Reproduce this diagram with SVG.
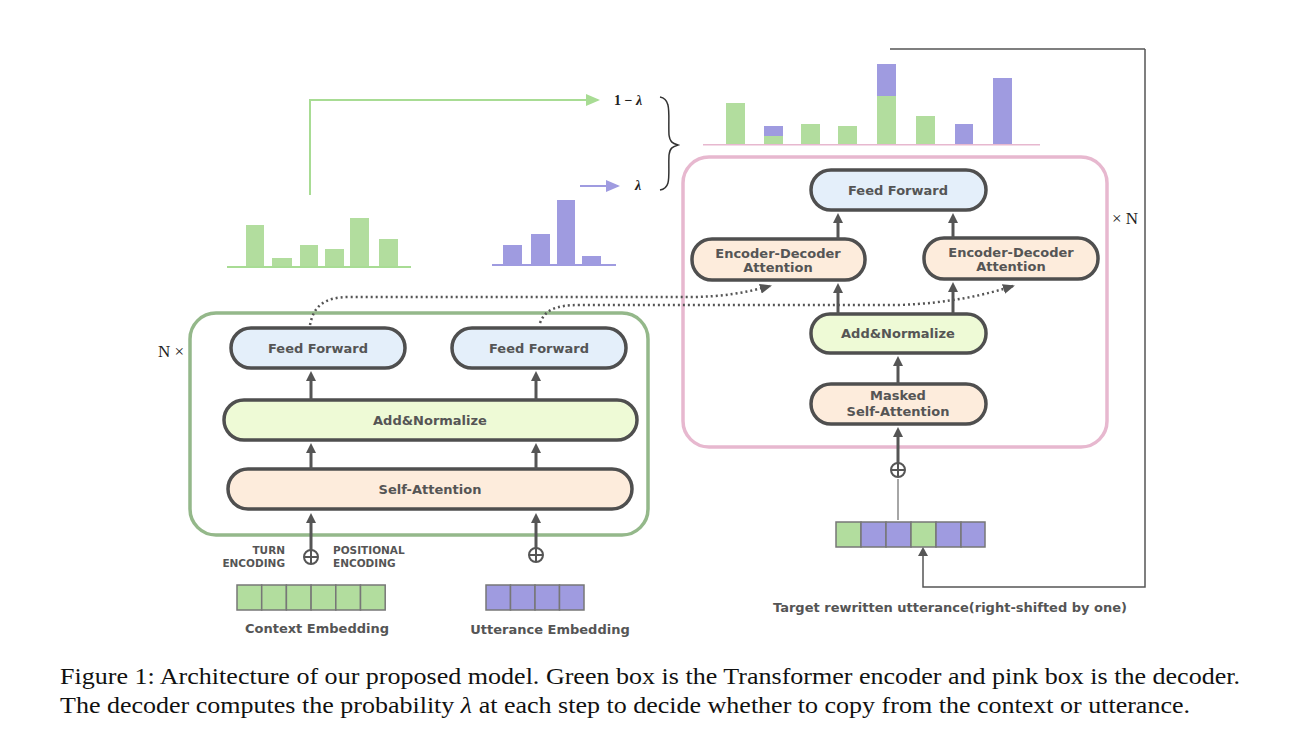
<svg xmlns="http://www.w3.org/2000/svg" width="1298" height="748" viewBox="0 0 1298 748">
<defs>
<style>
.pill{stroke:#4f4f4f;stroke-width:3.5}
.ff{fill:#e4effa}.an{fill:#eefad6}.at{fill:#fdecdc}
.lbl{font-family:"DejaVu Sans",sans-serif;font-weight:bold;fill:#555;font-size:13px;text-anchor:middle}
.sm{font-family:"DejaVu Sans",sans-serif;font-weight:bold;fill:#555;font-size:10.5px}
.dot{stroke:#555;stroke-width:2.5;fill:none;stroke-dasharray:2 3}
.g{fill:#b2dd9e}.p{fill:#9f9be0}
.cap{font-family:"Liberation Serif",serif;font-size:23px;fill:#111}
.cell{stroke:#777;stroke-width:1.5}
</style>
<marker id="ah" markerWidth="10" markerHeight="10" refX="5" refY="5" orient="auto" markerUnits="userSpaceOnUse" viewBox="0 0 10 10"><path d="M0,0 L10,5 L0,10z" fill="#555"/></marker>
<marker id="ahd" markerWidth="12" markerHeight="10" refX="10" refY="5" orient="auto" markerUnits="userSpaceOnUse"><path d="M0,0 L12,5 L0,10z" fill="#555"/></marker>
<marker id="ahg" markerWidth="14" markerHeight="12" refX="12" refY="6" orient="auto" markerUnits="userSpaceOnUse"><path d="M0,0 L14,6 L0,12z" fill="#a8dc94"/></marker>
<marker id="ahp" markerWidth="14" markerHeight="12" refX="12" refY="6" orient="auto" markerUnits="userSpaceOnUse"><path d="M0,0 L14,6 L0,12z" fill="#9f9be0"/></marker>
</defs>
<rect width="1298" height="748" fill="#fff"/>

<g id="encoder">
<rect x="190" y="313" width="458" height="222" rx="26" fill="none" stroke="#94b88a" stroke-width="3.5"/>
<text x="158" y="357" font-family="Liberation Serif,serif" font-size="17" fill="#222">N ×</text>
</g>
<g id="enc-ff-left"><rect class="pill ff" x="231" y="328" width="174" height="40" rx="20"/><text class="lbl" x="318" y="353">Feed Forward</text></g>
<g id="enc-ff-right"><rect class="pill ff" x="452" y="328" width="174" height="40" rx="20"/><text class="lbl" x="539" y="353">Feed Forward</text></g>
<g id="enc-addnorm"><rect class="pill an" x="224" y="400" width="413" height="40" rx="20"/><text class="lbl" x="430" y="425">Add&amp;Normalize</text></g>
<g id="enc-selfattn"><rect class="pill at" x="228" y="469" width="404" height="40" rx="20"/><text class="lbl" x="430" y="494">Self-Attention</text></g>

<g id="decoder">
<rect x="683" y="157" width="424" height="290" rx="26" fill="none" stroke="#e7b8cf" stroke-width="3.5"/>
<text x="1112" y="224" font-family="Liberation Serif,serif" font-size="17" fill="#222">× N</text>
</g>
<g id="dec-ff"><rect class="pill ff" x="811" y="170" width="175" height="40" rx="20"/><text class="lbl" x="898" y="195">Feed Forward</text></g>
<g id="dec-eda-left"><rect class="pill at" x="692" y="239" width="173" height="41" rx="20"/><text class="lbl" x="778" y="258" font-size="11.5">Encoder-Decoder</text><text class="lbl" x="778" y="272" font-size="11.5">Attention</text></g>
<g id="dec-eda-right"><rect class="pill at" x="924" y="238" width="174" height="41" rx="20"/><text class="lbl" x="1011" y="257" font-size="11.5">Encoder-Decoder</text><text class="lbl" x="1011" y="271" font-size="11.5">Attention</text></g>
<g id="dec-addnorm"><rect class="pill an" x="811" y="314" width="175" height="39" rx="19"/><text class="lbl" x="898" y="338">Add&amp;Normalize</text></g>
<g id="dec-masked"><rect class="pill at" x="811" y="384" width="175" height="40" rx="20"/><text class="lbl" x="898" y="400" font-size="12">Masked</text><text class="lbl" x="898" y="416" font-size="12">Self-Attention</text></g>

<g id="inputs">
<g fill="none" stroke="#555" stroke-width="2"><circle cx="311" cy="557" r="7"/><path d="M304,557h14M311,550v14"/><circle cx="536" cy="555" r="7"/><path d="M529,555h14M536,548v14"/><circle cx="898" cy="470" r="7"/><path d="M891,470h14M898,463v14"/></g>
<text class="sm" x="285" y="554" text-anchor="end">TURN</text><text class="sm" x="285" y="567" text-anchor="end">ENCODING</text>
<text class="sm" x="333" y="554">POSITIONAL</text><text class="sm" x="333" y="567">ENCODING</text>
<g class="g"><rect class="cell" x="237" y="585" width="24.7" height="25"/><rect class="cell" x="261.7" y="585" width="24.7" height="25"/><rect class="cell" x="286.4" y="585" width="24.7" height="25"/><rect class="cell" x="311.1" y="585" width="24.7" height="25"/><rect class="cell" x="335.8" y="585" width="24.7" height="25"/><rect class="cell" x="360.5" y="585" width="24.7" height="25"/></g>
<g class="p"><rect class="cell" x="486" y="585" width="24.5" height="25"/><rect class="cell" x="510.5" y="585" width="24.5" height="25"/><rect class="cell" x="535" y="585" width="24.5" height="25"/><rect class="cell" x="559.5" y="585" width="24.5" height="25"/></g>
<text class="lbl" x="317" y="633" font-size="12.5">Context Embedding</text>
<text class="lbl" x="550" y="634" font-size="12.5">Utterance Embedding</text>
<rect class="cell g" x="836" y="522" width="25" height="25"/><rect class="cell p" x="861" y="522" width="25" height="25"/><rect class="cell p" x="886" y="522" width="25" height="25"/><rect class="cell g" x="911" y="522" width="25" height="25"/><rect class="cell p" x="936" y="522" width="25" height="25"/><rect class="cell p" x="961" y="522" width="24" height="25"/>
<text class="lbl" x="950" y="612" font-size="11.5">Target rewritten utterance(right-shifted by one)</text>
</g>

<g id="charts">
<rect x="227" y="266" width="184" height="2" fill="#a8dc94"/>
<rect class="g" x="246" y="225" width="18" height="41"/><rect class="g" x="272" y="258" width="20" height="8"/><rect class="g" x="300" y="245" width="18" height="21"/><rect class="g" x="325" y="249" width="19" height="17"/><rect class="g" x="350" y="218" width="19" height="48"/><rect class="g" x="379" y="239" width="19" height="27"/>
<rect x="492" y="264" width="124" height="2" fill="#9f9be0"/>
<rect class="p" x="503" y="245" width="19" height="19"/><rect class="p" x="531" y="234" width="19" height="30"/><rect class="p" x="557" y="200" width="18" height="64"/><rect class="p" x="582" y="256" width="19" height="8"/>
<rect x="703" y="144" width="337" height="1.5" fill="#e7b8cf"/>
<rect class="g" x="726" y="103" width="19" height="41"/>
<rect class="p" x="764" y="126" width="19" height="10"/><rect class="g" x="764" y="136" width="19" height="8"/>
<rect class="g" x="801" y="124" width="19" height="20"/>
<rect class="g" x="838" y="126" width="19" height="18"/>
<rect class="p" x="877" y="64" width="19" height="32"/><rect class="g" x="877" y="96" width="19" height="48"/>
<rect class="g" x="916" y="116" width="19" height="28"/>
<rect class="p" x="955" y="124" width="18" height="20"/>
<rect class="p" x="993" y="78" width="19" height="66"/>
<text x="614" y="105" font-family="Liberation Serif,serif" font-size="14" font-weight="bold" fill="#222">1 − <tspan font-style="italic">λ</tspan></text>
<text x="635" y="190" font-family="Liberation Serif,serif" font-size="14" font-weight="bold" font-style="italic" fill="#222">λ</text>
<path d="M660,97 C672,99 668,115 669,135 C670,142 672,143 678,145 C672,147 670,148 669,155 C668,175 672,188 660,190" fill="none" stroke="#333" stroke-width="1.5"/>
</g>

<g id="connectors">
<path d="M310,195 V100 H598" fill="none" stroke="#a8dc94" stroke-width="2" marker-end="url(#ahg)"/>
<path d="M580,186 H618" fill="none" stroke="#9f9be0" stroke-width="2" marker-end="url(#ahp)"/>
<g stroke="#555" stroke-width="3" marker-end="url(#ah)">
<line x1="311" y1="550" x2="311" y2="518"/>
<line x1="536" y1="548" x2="536" y2="518"/>
<line x1="311" y1="469" x2="311" y2="448"/>
<line x1="536" y1="469" x2="536" y2="448"/>
<line x1="311" y1="400" x2="311" y2="376"/>
<line x1="536" y1="400" x2="536" y2="376"/>
<line x1="838" y1="239" x2="838" y2="218"/>
<line x1="953" y1="238" x2="953" y2="218"/>
<line x1="838" y1="314" x2="838" y2="288"/>
<line x1="953" y1="314" x2="953" y2="287"/>
<line x1="898" y1="384" x2="898" y2="361"/>
<line x1="898" y1="463" x2="898" y2="432"/>
</g>
<line x1="898" y1="520" x2="898" y2="479" stroke="#888" stroke-width="1.5"/>
<path d="M1145,49 H890 M1145,49 V587 H923 V552" fill="none" stroke="#555" stroke-width="1.5"/>
<path d="M918,556 L923,547 L928,556z" fill="#555"/>
<path class="dot" d="M310,325 C314,305 325,297 350,297 H690 C720,297 745,293 770,286" marker-end="url(#ahd)"/>
<path class="dot" d="M540,323 C545,310 555,305 580,305 H900 C950,303 985,295 1013,286" marker-end="url(#ahd)"/>
</g>

<g id="caption">
<text class="cap" x="60" y="684" textLength="1180" lengthAdjust="spacingAndGlyphs">Figure 1: Architecture of our proposed model. Green box is the Transformer encoder and pink box is the decoder.</text>
<text class="cap" x="60" y="713" textLength="1130" lengthAdjust="spacingAndGlyphs">The decoder computes the probability <tspan font-style="italic">λ</tspan> at each step to decide whether to copy from the context or utterance.</text>
</g>
</svg>
